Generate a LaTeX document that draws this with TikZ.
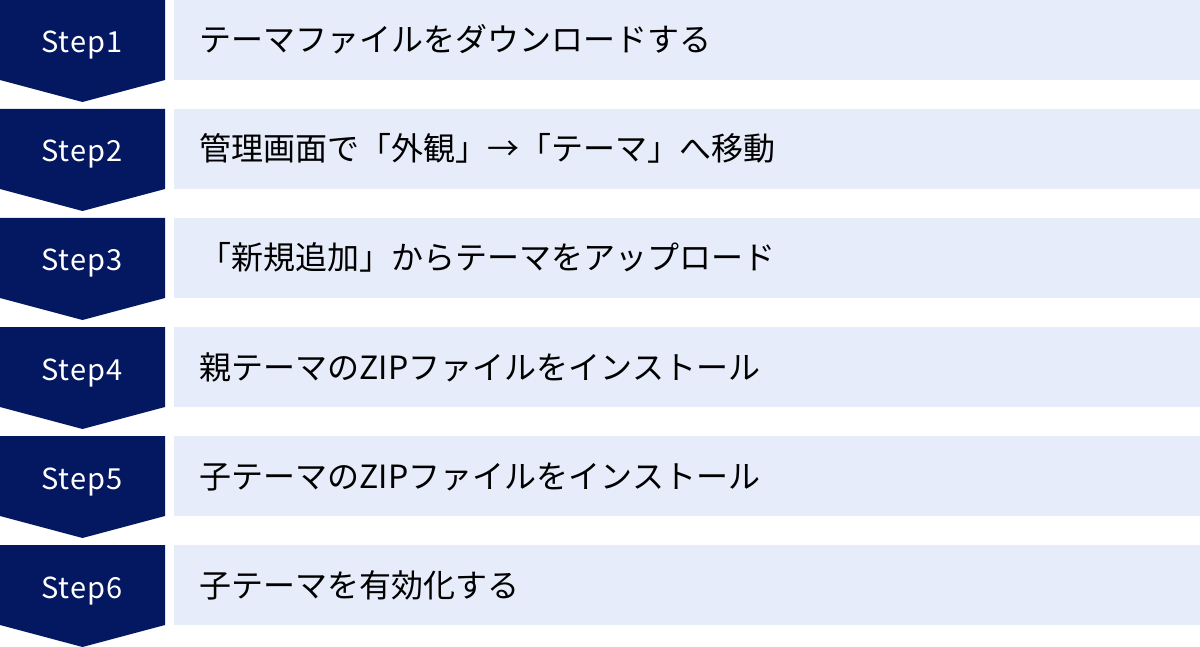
\documentclass[tikz,border=0pt]{standalone}
\usepackage{fontspec}
\setmainfont{Noto Sans CJK JP}
\newfontfamily\steplbl[LetterSpace=4]{Noto Sans CJK JP}
\definecolor{navy}{HTML}{041761}
\definecolor{barbg}{HTML}{E6ECF9}
\tikzset{
  stepshape/.style={fill=navy, draw=none},
  steplabel/.style={text=white, font=\steplbl\fontsize{29bp}{34bp}\selectfont, inner sep=0pt, anchor=base},
  barbox/.style={fill=barbg, draw=none, minimum width=1026bp, minimum height=80bp, inner sep=0pt, anchor=north west},
  bartext/.style={text=black, font=\fontsize{32bp}{36bp}\selectfont, inner sep=0pt, anchor=base west},
}
\begin{document}
\begin{tikzpicture}[x=1bp,y=-1bp]
\useasboundingbox (0,0) rectangle (1200,647);
\foreach \i/\txt in {1/テーマファイルをダウンロードする,
                     2/管理画面で「外観」→「テーマ」へ移動,
                     3/「新規追加」からテーマをアップロード,
                     4/親テーマのZIPファイルをインストール,
                     5/子テーマのZIPファイルをインストール,
                     6/子テーマを有効化する}{
  \pgfmathsetmacro{\t}{(\i-1)*109}
  \fill[stepshape] (0,\t) -- (165,\t) -- (165,\t+80) -- (82.5,\t+102) -- (0,\t+80) -- cycle;
  \node[steplabel] (s\i) at (82,\t+53) {Step\i};
  \node[barbox] (b\i) at (174,\t) {};
  \node[bartext] (t\i) at (199.5,\t+52) {\txt};
}
\end{tikzpicture}
\end{document}
